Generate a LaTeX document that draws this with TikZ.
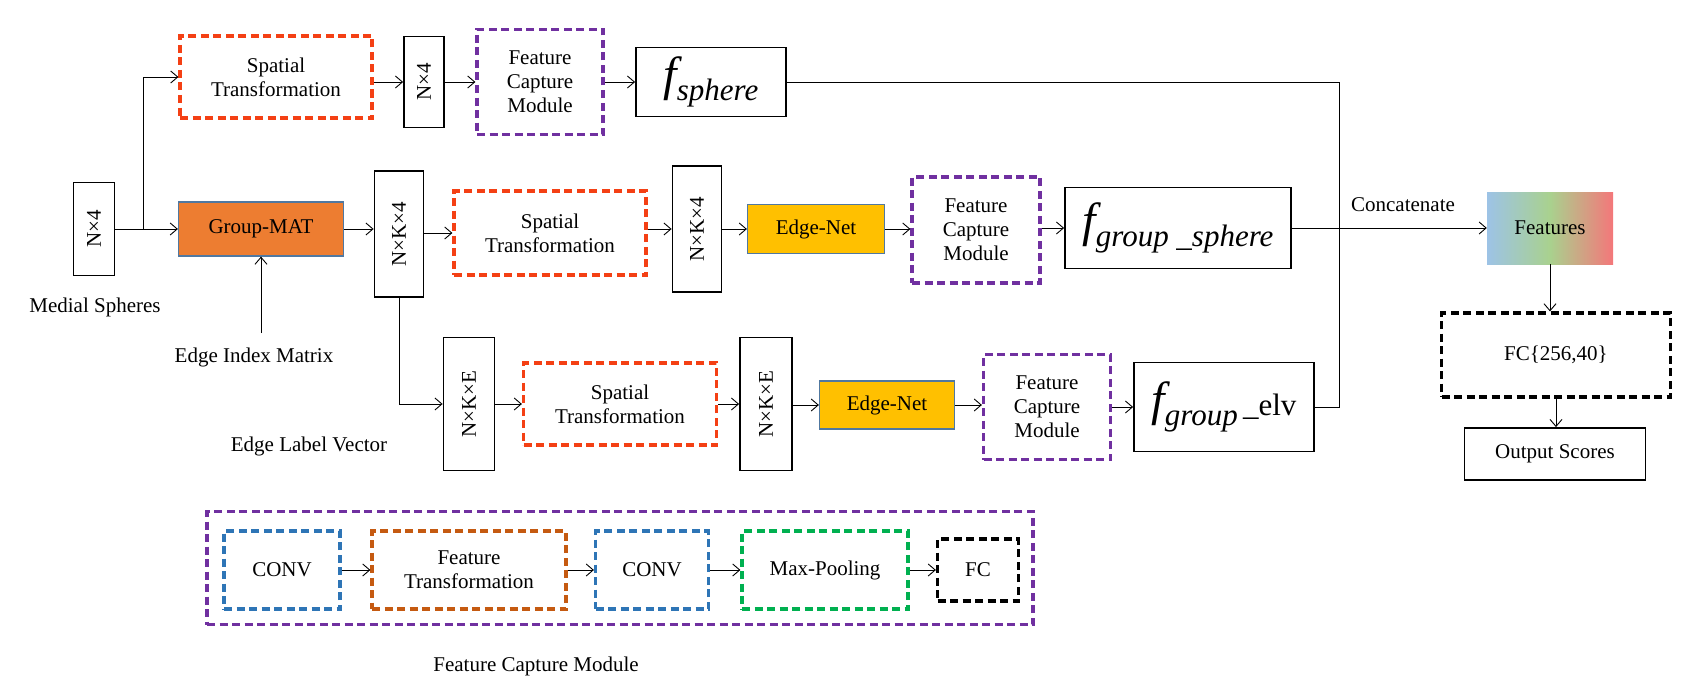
\documentclass[tikz,border=0pt]{standalone}
\usepackage{fontspec}
\setmainfont{Liberation Serif}
\usetikzlibrary{arrows.meta}
\definecolor{cred}{RGB}{244,64,20}
\definecolor{cpur}{RGB}{112,48,160}
\definecolor{cblu}{RGB}{46,117,182}
\definecolor{cbro}{RGB}{197,90,17}
\definecolor{cgrn}{RGB}{0,176,80}
\definecolor{corg}{RGB}{237,125,49}
\definecolor{cyel}{RGB}{255,192,0}
\definecolor{cedge}{RGB}{80,120,160}
\definecolor{fb}{RGB}{157,195,230}
\definecolor{fg}{RGB}{169,209,142}
\definecolor{fr}{RGB}{244,119,122}
\pgfdeclarehorizontalshading{featshade}{100bp}{color(0bp)=(fb); color(25bp)=(fb); color(50bp)=(fg); color(75bp)=(fr); color(100bp)=(fr)}
\begin{document}
\begin{tikzpicture}[x=1pt,y=-1pt,
  every node/.style={font=\fontsize{21}{24}\selectfont, align=center, inner sep=0pt},
  sz/.style 2 args={minimum width=#1, minimum height=#2},
  dsh/.style={draw=#1, line width=3.2pt, dash pattern=on 8pt off 4.5pt},
  fill1/.style={draw=cedge, line width=1.2pt, fill=#1},
  bx/.style={draw, line width=1.8pt},
  arr/.style={-{Straight Barb[length=7pt,width=12pt]}, line width=0.9pt},
  ln/.style={line width=0.9pt}]
\useasboundingbox (0,0) rectangle (1690,693);
\newcommand{\bigf}[2]{{\fontsize{48}{48}\selectfont\itshape f}\raisebox{-10pt}{\fontsize{31}{31}\selectfont #1#2}}
% top row
\node[bx,sz={41pt}{93pt}] (nl) at (94,229) {\rotatebox{90}{N×4}};
\node (ms) at (95,307) {Medial Spheres};
\node[dsh=cred,sz={192pt}{82pt}] (st1) at (276,77) {Spatial\\Transformation};
\node[bx,sz={40pt}{91pt}] (n1) at (424,82) {\rotatebox{90}{N×4}};
\node[dsh=cpur,sz={126pt}{105pt}] (fc1) at (540,82) {Feature\\Capture\\Module};
\node[bx,sz={150pt}{69pt}] (fs) at (711,82) {\bigf{\itshape}{sphere}};
% middle row
\node[fill1=corg,sz={165pt}{54pt}] (gm) at (261,229) {Group-MAT};
\node (eim) at (254,357) {Edge Index Matrix};
\node[bx,sz={49pt}{126pt}] (nk1) at (399,234) {\rotatebox{90}{N×K×4}};
\node[dsh=cred,sz={192pt}{84pt}] (st2) at (550,233) {Spatial\\Transformation};
\node[bx,sz={49pt}{126pt}] (nk2) at (697,229) {\rotatebox{90}{N×K×4}};
\node[fill1=cyel,sz={137pt}{49pt}] (en1) at (816,229) {Edge-Net};
\node[dsh=cpur,sz={128pt}{106pt}] (fc2) at (976,230) {Feature\\Capture\\Module};
\node[bx,sz={226pt}{81pt}] (fgs) at (1178,228) {\bigf{\itshape}{group \_sphere}};
% bottom row
\node (elv) at (309,446) {Edge Label Vector};
\node[bx,sz={51pt}{133pt}] (ne1) at (469,404) {\rotatebox{90}{N×K×E}};
\node[dsh=cred,sz={193pt}{82pt}] (st3) at (620,404) {Spatial\\Transformation};
\node[bx,sz={52pt}{133pt}] (ne2) at (766,404) {\rotatebox{90}{N×K×E}};
\node[fill1=cyel,sz={135pt}{48pt}] (en2) at (887,405) {Edge-Net};
\node[dsh=cpur,sz={127pt}{105pt}] (fc3) at (1047,407) {Feature\\Capture\\Module};
\node[bx,sz={180pt}{89pt}] (fge) at (1224,407) {\bigf{\itshape}{group}{\fontsize{31}{31}\selectfont \,\_elv}};
% right
\node (cat) at (1403,205) {Concatenate};
\node[shading=featshade,sz={126pt}{72pt}] (feat) at (1550,228) {Features};
\node[dsh=black,sz={229pt}{84pt}] (fcb) at (1556,355) {FC\{256,40\}};
\node[bx,sz={181pt}{52pt}] (out) at (1555,454) {Output Scores};
% feature capture module detail
\node[dsh=cpur,sz={826pt}{113pt}] (fcm) at (620,568) {};
\node[dsh=cblu,sz={116pt}{78pt}] (cv1) at (282,570) {CONV};
\node[dsh=cbro,sz={194pt}{78pt}] (ft) at (469,570) {Feature\\Transformation};
\node[dsh=cblu,sz={113pt}{78pt}] (cv2) at (652,570) {CONV};
\node[dsh=cgrn,sz={166pt}{78pt}] (mp) at (825,570) {Max-Pooling};
\node[dsh=black,sz={81pt}{62pt}] (fcs) at (978,570) {FC};
\node (cap) at (536,666) {Feature Capture Module};
% connectors
\coordinate (sp) at (143,229);
\coordinate (cc) at (1339,407);
\coordinate (eimtop) at (261,333);
\draw[arr] (nl.east) -- (gm.west);
\draw[arr] (sp) |- (st1.west);
\draw[arr] (st1.east |- n1) -- (n1.west);
\draw[arr] (n1.east) -- (fc1.west);
\draw[arr] (fc1.east) -- (fs.west);
\draw[ln] (fs.east) -| (cc) -- (fge.east);
\draw[arr] (eimtop) -- (gm.south);
\draw[arr] (gm.east) -- (gm.east -| nk1.west);
\draw[arr] (nk1.east |- st2) -- (st2.west);
\draw[arr] (st2.east |- nk2) -- (nk2.west);
\draw[arr] (nk2.east) -- (en1.west);
\draw[arr] (en1.east) -- (en1.east -| fc2.west);
\draw[arr] (fc2.east |- fgs) -- (fgs.west);
\draw[arr] (fgs.east |- feat) -- (feat.west);
\draw[arr] (nk1.south) |- (ne1.west);
\draw[arr] (ne1.east) -- (st3.west);
\draw[arr] (st3.east) -- (ne2.west);
\draw[arr] (ne2.east |- en2) -- (en2.west);
\draw[arr] (en2.east) -- (en2.east -| fc3.west);
\draw[arr] (fc3.east) -- (fge.west);
\draw[arr] (feat.south) -- (feat.south |- fcb.north);
\draw[arr] (fcb.south) -- (fcb.south |- out.north);
\draw[arr] (cv1.east) -- (ft.west);
\draw[arr] (ft.east) -- (cv2.west);
\draw[arr] (cv2.east) -- (mp.west);
\draw[arr] (mp.east) -- (fcs.west);
\end{tikzpicture}
\end{document}
